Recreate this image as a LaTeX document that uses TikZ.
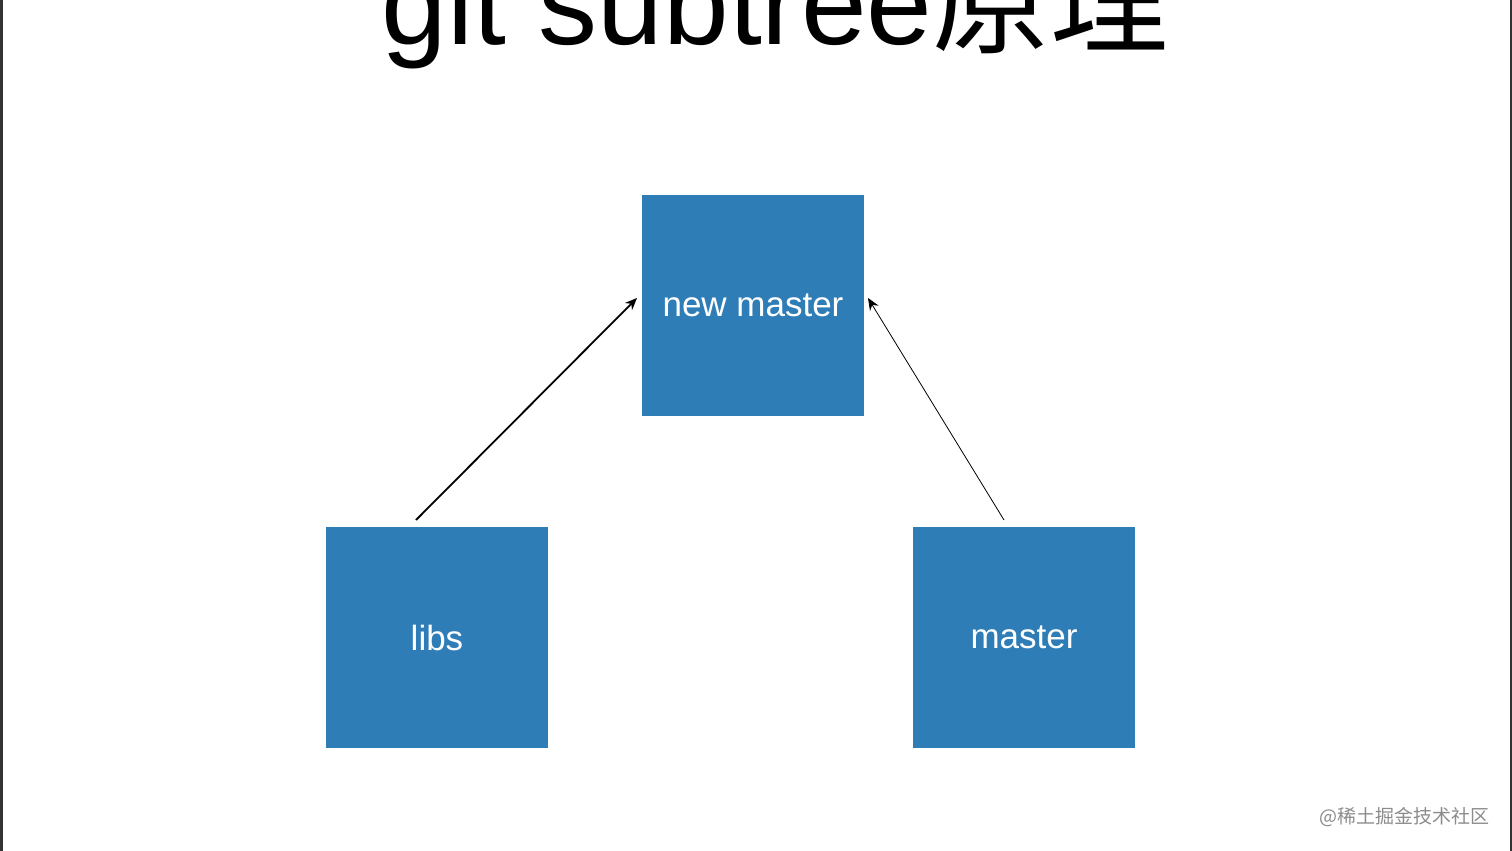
\documentclass[tikz,border=0pt]{standalone}
\usepackage{fontspec}
\setmainfont{Liberation Sans}
\newfontfamily\cjk{Noto Sans CJK SC}
\usetikzlibrary{arrows.meta}
\definecolor{boxblue}{HTML}{2F7DB6}
\begin{document}
\begin{tikzpicture}[x=0.5pt,y=-0.5pt,
  bx/.style={fill=boxblue,minimum width=111pt,minimum height=110.5pt,inner sep=0pt,text=white,font=\fontsize{17.5}{20}\selectfont},
  arr/.style={-{Stealth[length=6pt,width=5pt]},black}]
\useasboundingbox (0,0) rectangle (1512,851);
\begin{scope}
\clip (0,0) rectangle (1512,851);
\fill[white] (0,0) rectangle (1512,851);
\draw[black!80,line width=1.5pt] (1,0) -- (1,851) (1511,0) -- (1511,851);
\node[anchor=base,inner sep=0pt,font=\fontsize{59}{64}\selectfont] (title) at (775,45) {git subtree{\cjk 原理}};
\end{scope}
\node[bx] (nm) at (753,305.5) {\raisebox{-2pt}{new master}};
\node[bx] (libs) at (437,637.5) {\raisebox{-2pt}{libs}};
\node[bx] (master) at (1024,637.5) {\raisebox{-2pt}{master}};
\coordinate (a1) at (416,520);
\coordinate (a2) at (1004,520);
\coordinate (e1) at (637,298);
\coordinate (e2) at (868,298);
\draw[arr,line width=0.9pt] (a1) -- (e1);
\draw[arr,line width=0.4pt] (a2) -- (e2);
\node[anchor=east,inner sep=0pt,text=black!45,font=\cjk\fontsize{9.5}{11}\selectfont] (wm) at (1490,817) {@稀土掘金技术社区};
\end{tikzpicture}
\end{document}
